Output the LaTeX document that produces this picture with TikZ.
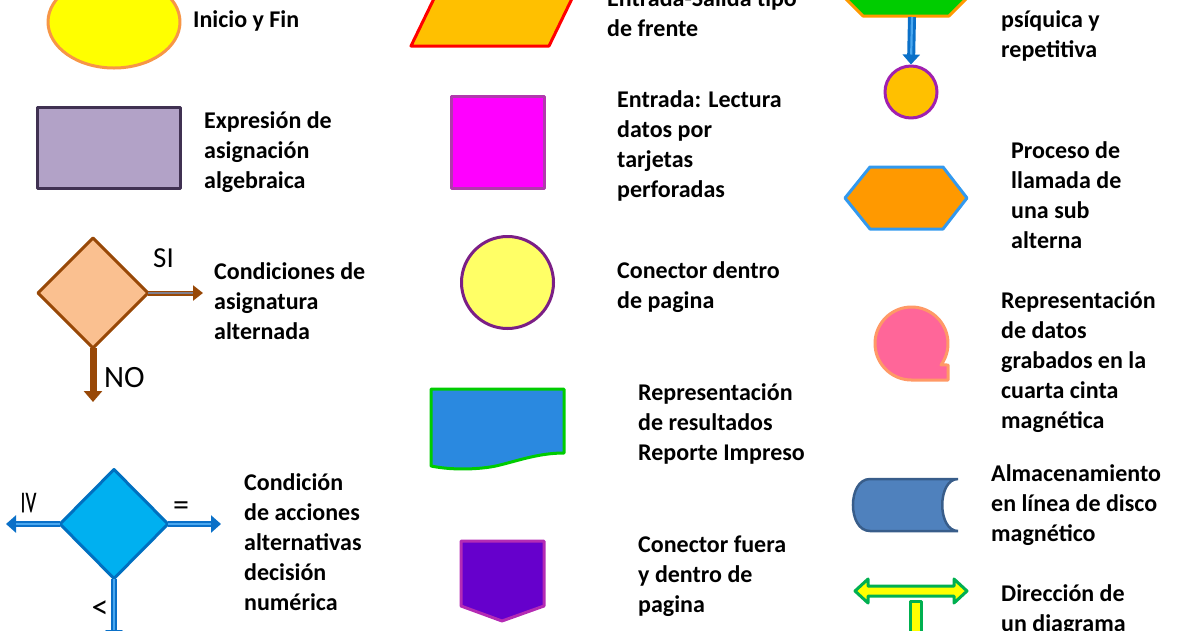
\documentclass[tikz,border=0pt]{standalone}
\usepackage{fontspec}
\usepackage{graphicx}
\setmainfont{Carlito}
\usetikzlibrary{shapes.geometric,arrows.meta}
\definecolor{ellfill}{HTML}{FFFF00}
\definecolor{elldraw}{HTML}{F79646}
\definecolor{recfill}{HTML}{B2A2C7}
\definecolor{recdraw}{HTML}{403152}
\definecolor{dafill}{HTML}{FAC090}
\definecolor{dadraw}{HTML}{984807}
\definecolor{dbfill}{HTML}{00B0F0}
\definecolor{dbdraw}{HTML}{0070C0}
\definecolor{parfill}{HTML}{FFC000}
\definecolor{pardraw}{HTML}{FF0000}
\definecolor{sqfill}{HTML}{FF00FF}
\definecolor{sqdraw}{HTML}{B03AAD}
\definecolor{cifill}{HTML}{FFFF66}
\definecolor{cidraw}{HTML}{7B1F86}
\definecolor{docfill}{HTML}{2A89E0}
\definecolor{docdraw}{HTML}{00CC00}
\definecolor{pentfill}{HTML}{6600CC}
\definecolor{pentdraw}{HTML}{B42BB4}
\definecolor{ghfill}{HTML}{00CC00}
\definecolor{ghdraw}{HTML}{FF9900}
\definecolor{scfill}{HTML}{FFC000}
\definecolor{scdraw}{HTML}{A020B0}
\definecolor{ohfill}{HTML}{FF9900}
\definecolor{ohdraw}{HTML}{3399EE}
\definecolor{tpfill}{HTML}{FF6699}
\definecolor{tpdraw}{HTML}{FF9966}
\definecolor{dkfill}{HTML}{4F81BD}
\definecolor{dkdraw}{HTML}{385D8A}
\definecolor{yafill}{HTML}{FFFF00}
\definecolor{yadraw}{HTML}{00B050}
\definecolor{arblue}{HTML}{0A70C8}
\definecolor{arlight}{HTML}{4AA8F0}
\definecolor{brgray}{HTML}{7F7F8F}
\begin{document}
\begin{tikzpicture}[x=1pt,y=-1pt,
  lbl/.style={anchor=base west, align=left, inner sep=0pt,
    font=\bfseries\fontsize{24}{30}\selectfont},
  sym/.style={anchor=base west, inner sep=0pt, font=\fontsize{29}{32}\selectfont},
  shp/.style={line width=3pt, line join=round},
  blu/.style={line width=6pt, draw=arblue, -{Triangle[length=10pt,width=17pt]}},
  bluin/.style={line width=1.8pt, draw=arlight, shorten >=10pt},
]
\useasboundingbox (0,0) rectangle (1200,630);
\clip (0,0) rectangle (1200,630);

% ---------- left column
\node[ellipse, shp, draw=elldraw, fill=ellfill, minimum width=132, minimum height=92, inner sep=0] (ell) at (114,22) {};
\node[lbl] (tell) at (193,27) {Inicio y Fin};

\node[rectangle, shp, draw=recdraw, fill=recfill, minimum width=143, minimum height=81, inner sep=0] (rec) at (108.5,147.5) {};
\node[lbl] (trec) at (204,188) {Expresión de\\asignación\\algebraica};

\node[diamond, shp, draw=dadraw, fill=dafill, minimum width=110, minimum height=110, inner sep=0, outer sep=0] (da) at (93,293) {};
\coordinate (siend) at (203,293);
\coordinate (noend) at (93,402);
\draw[line width=5pt, draw=dadraw, -{Triangle[length=10pt,width=15pt]}] (da.east) -- (siend);
\draw[line width=1.5pt, draw=brgray, shorten >=10pt] (da.east) -- (siend);
\draw[line width=7pt, draw=dadraw, -{Triangle[length=11pt,width=18pt]}] (da.south) -- (noend);
\node[sym] (tsi) at (153,267) {SI};
\node[sym, font=\fontsize{31}{34}\selectfont] (tno) at (104,387) {NO};
\node[lbl] (tda) at (214,339) {Condiciones de\\asignatura\\alternada};

\node[diamond, shp, draw=dbdraw, fill=dbfill, minimum width=108, minimum height=109, inner sep=0, outer sep=0] (db) at (114,524) {};
\coordinate (dbl) at (6,524);
\coordinate (dbr) at (221,524);
\coordinate (dbd) at (114,640);
\draw[blu] (db.west) -- (dbl);
\draw[bluin] (db.west) -- (dbl);
\draw[blu] (db.east) -- (dbr);
\draw[bluin] (db.east) -- (dbr);
\draw[blu] (db.south) -- (dbd);
\draw[bluin] (db.south) -- (dbd);
\node[sym, rotate=-90, anchor=center, font=\fontsize{40}{42}\selectfont] (tge) at (29,502) {\scalebox{1.35}[0.7]{≥}};
\node[sym, anchor=center, font=\fontsize{32}{34}\selectfont] (teq) at (181,509) {=};
\node[sym, anchor=center, font=\fontsize{34}{36}\selectfont] (tlt) at (100,610) {<};
\node[lbl] (tdb) at (244,610) {Condición\\de acciones\\alternativas\\decisión\\numérica};

% ---------- middle column
\draw[shp, draw=pardraw, fill=parfill] (411,46) -- (549,46) -- (581,-20) -- (443,-20) -- cycle;
\node[lbl] (tpar) at (607,36) {Entrada-Salida tipo\\de frente};

\node[rectangle, shp, draw=sqdraw, fill=sqfill, minimum width=93, minimum height=92, inner sep=0] (sq) at (497.5,142) {};
\node[lbl] (tsq) at (617,197) {Entrada: Lectura\\datos por\\tarjetas\\perforadas};

\node[circle, shp, draw=cidraw, fill=cifill, minimum size=92, inner sep=0] (ci) at (507.5,282.5) {};
\node[lbl] (tci) at (617,308) {Conector dentro\\de pagina};

\draw[shp, draw=docdraw, fill=docfill] (431,389) -- (564,389) -- (564,453)
  .. controls (540,453) and (520,460) .. (500,465)
  .. controls (485,469) and (455,471) .. (431,466) -- cycle;
\node[lbl] (tdoc) at (638,460) {Representación\\de resultados\\Reporte Impreso};

\draw[shp, draw=pentdraw, fill=pentfill] (461,541) -- (544,541) -- (544,606) -- (502,621) -- (461,606) -- cycle;
\node[lbl] (tpent) at (638,612) {Conector fuera\\y dentro de\\pagina};

% ---------- right column
\draw[shp, draw=ghdraw, fill=ghfill] (863,16) -- (949,16) -- (970,-5) -- (949,-26) -- (863,-26) -- (842,-5) -- cycle;
\coordinate (ghb) at (912,17);
\node[circle, shp, draw=scdraw, fill=scfill, minimum size=52, inner sep=0] (sc) at (911,92) {};
\draw[blu, line width=8pt] (ghb) -- (sc.north);
\draw[bluin, line width=2.2pt] (ghb) -- (sc.north);
\node[lbl] (tgh) at (1001,57) {psíquica y\\repetitiva};

\draw[shp, draw=ohdraw, fill=ohfill] (845,198) -- (870,167) -- (943,167) -- (967,198) -- (943,229) -- (870,229) -- cycle;
\node[lbl] (toh) at (1011,248) {Proceso de\\llamada de\\una sub\\alterna};

\draw[shp, draw=tpdraw, fill=tpfill] plot[domain=90:396, samples=90] ({911.5+36.5*cos(\x)},{343.5+36.5*sin(\x)}) -- (948,365) -- (948,380) -- cycle;
\node[lbl] (ttp) at (1001,428) {Representación\\de datos\\grabados en la\\cuarta cinta\\magnética};

\draw[line width=2.5pt, draw=dkdraw, fill=dkfill] (870,479) -- (958,479)
  .. controls (937,479) and (937,531) .. (958,531) -- (870,531)
  .. controls (847.3,531) and (847.3,479) .. (870,479) -- cycle;
\node[lbl] (tdk) at (991,541) {Almacenamiento\\en línea de disco\\magnético};

\draw[shp, draw=yadraw, fill=yafill] (855,591) -- (868,579) -- (868,586) -- (954,586) -- (954,579) -- (967,591) -- (954,603) -- (954,596) -- (868,596) -- (868,603) -- cycle;
\draw[shp, draw=yadraw, fill=yafill] (910,601) rectangle (921,640);
\node[lbl] (tya) at (1001,631) {Dirección de\\un diagrama};
\end{tikzpicture}
\end{document}
